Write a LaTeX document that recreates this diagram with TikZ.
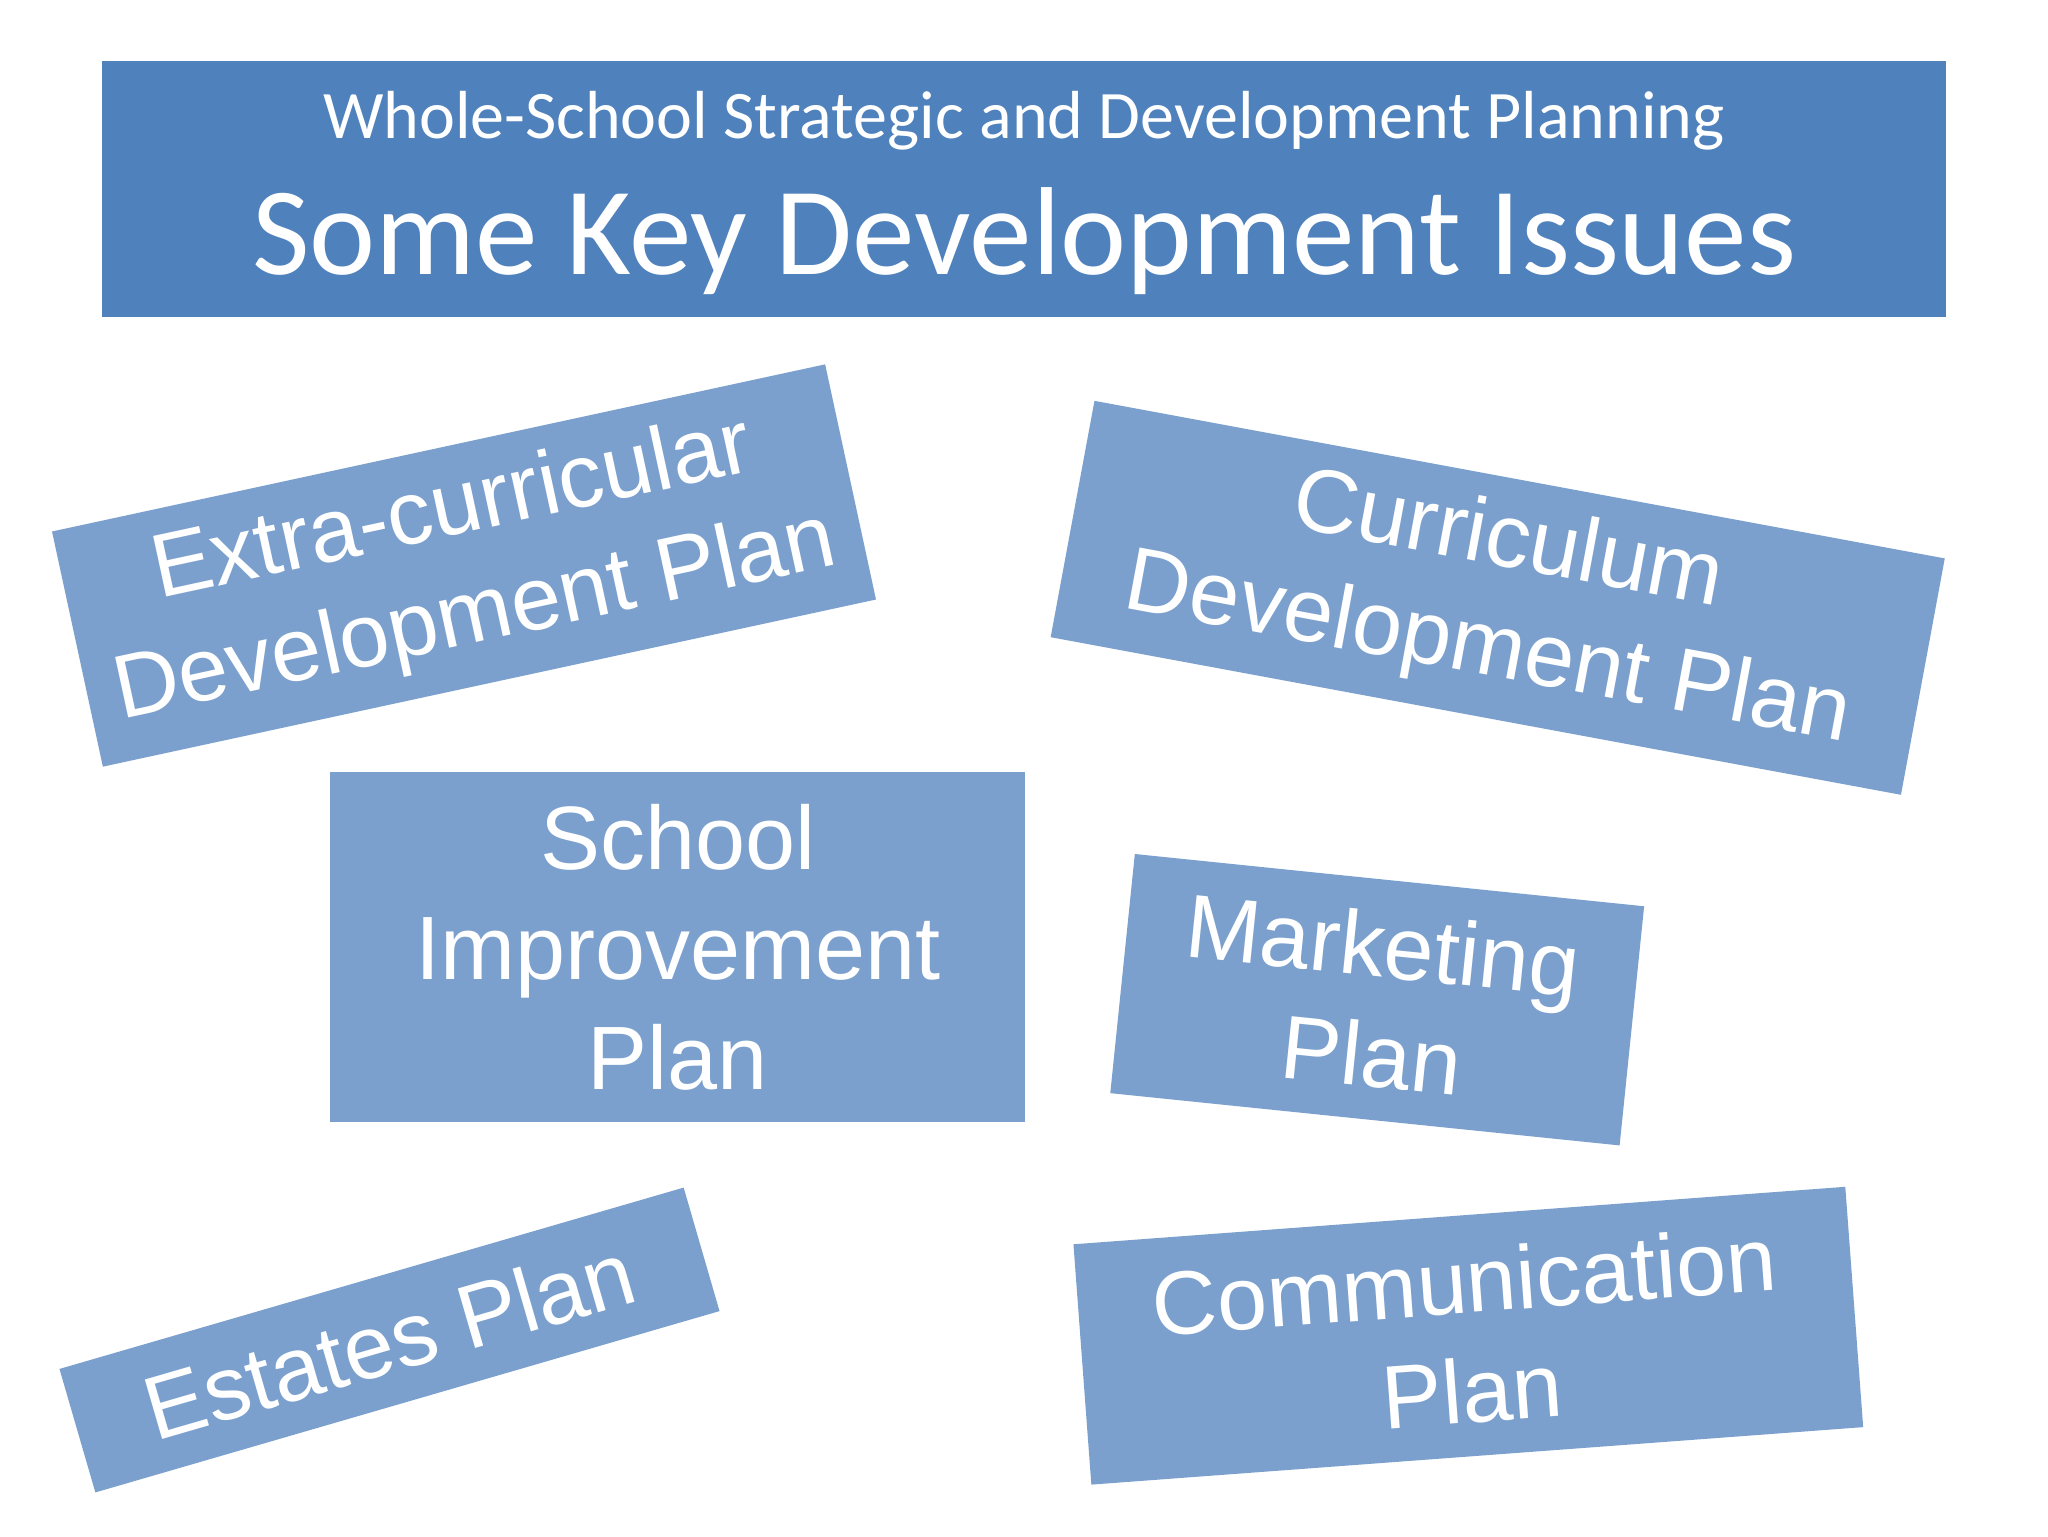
\documentclass[tikz,border=0pt]{standalone}
\usepackage{fontspec}
\setmainfont{Liberation Sans}
\newfontfamily\calib{Carlito}
\definecolor{titleblue}{HTML}{4F81BD}
\definecolor{boxblue}{HTML}{7BA0CD}
\begin{document}
\begin{tikzpicture}[x=0.5pt,y=-0.5pt,
  plan/.style={fill=boxblue,draw=none,inner sep=0pt,align=center,text=white,
    font=\fontsize{45}{55}\selectfont},
  hdr/.style={text=white,inner sep=0pt,anchor=base}]
\useasboundingbox (0,0) rectangle (2048,1536);
\fill[white] (0,0) rectangle (2048,1536);
\node[fill=titleblue,minimum width=922pt,minimum height=128pt,inner sep=0pt] (titlebox) at (1024,189) {};
\node[hdr,font=\calib\fontsize{34}{40}\selectfont] (sub) at (1024,138) {Whole-School Strategic and Development Planning};
\node[hdr,font=\calib\fontsize{62.6}{70}\selectfont] (main) at (1024,274) {Some Key Development Issues};
\node[plan,rotate=12.2,minimum width=395.5pt,minimum height=120.3pt] (extra) at (464,565.5) {Extra-curricular\\Development Plan};
\node[plan,rotate=-10.5,minimum width=432.4pt,minimum height=120.2pt] (curr) at (1497.7,597.8) {Curriculum\\Development Plan};
\node[plan,minimum width=347.4pt,minimum height=175pt] (sip) at (677.8,946.9) {School\\Improvement\\Plan};
\node[plan,rotate=-5.86,minimum width=256pt,minimum height=120.2pt] (mkt) at (1377.2,999.7) {Marketing\\Plan};
\node[plan,rotate=16.2,minimum width=325pt,minimum height=64.3pt] (est) at (389.5,1340) {Estates Plan};
\node[plan,rotate=4.26,minimum width=387pt,minimum height=120.5pt] (comm) at (1468.3,1335.7) {Communication\\Plan};
\end{tikzpicture}
\end{document}
